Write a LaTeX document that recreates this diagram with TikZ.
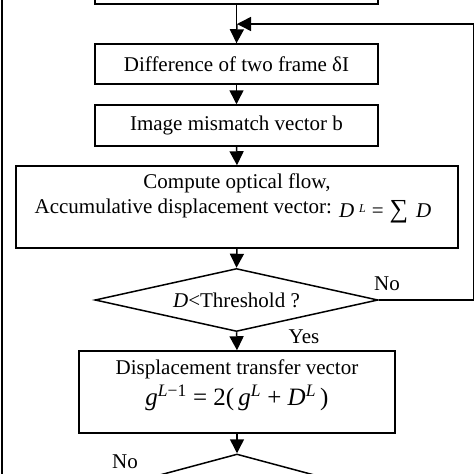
\documentclass[tikz,border=0pt]{standalone}
\usepackage{fontspec}
\setmainfont{Liberation Serif}
\usetikzlibrary{arrows.meta,shapes.geometric}
\begin{document}
\begin{tikzpicture}[x=1pt,y=-1pt,
  box/.style={draw,line width=1.5pt,rectangle,inner sep=0pt,align=center,font=\fontsize{21}{24}\selectfont},
  dec/.style={draw,line width=1.5pt,diamond,aspect=4.5,inner sep=0pt,font=\fontsize{21}{24}\selectfont},
  arr/.style={line width=1.5pt,-{Triangle[length=14pt,width=14pt]}},
  ln/.style={line width=1.5pt},
  lbl/.style={font=\fontsize{21}{24}\selectfont,inner sep=0pt}]
\useasboundingbox (0,0) rectangle (474,474);
\clip (0,0) rectangle (474,474);
\node[box,minimum width=283pt,minimum height=40pt] (top) at (236.5,-16) {};
\node[box,minimum width=283pt,minimum height=40pt] (b2) at (236.5,64) {Difference of two frame δI};
\node[box,minimum width=283pt,minimum height=41pt] (b3) at (236.5,125.5) {Image mismatch vector b};
\node[box,minimum width=442pt,minimum height=82pt] (b4) at (237,207) {};
\node[lbl] (t4a) at (237,183) {Compute optical flow,};
\node[lbl] (t4b) at (233,211) {Accumulative displacement vector: \raisebox{-4pt}{\textit{D}\hspace{5pt}\raisebox{5pt}{\fontsize{12}{12}\selectfont\textit{L}}\hspace{6pt}=\hspace{6pt}\fontsize{26}{26}\selectfont∑\fontsize{21}{24}\selectfont\hspace{8pt}\textit{D}}};
\node[dec,minimum width=283pt,minimum height=63pt] (d1) at (236.5,300) {\textit{D}<Threshold ?};
\node[box,minimum width=316pt,minimum height=82pt] (b5) at (237,392) {};
\node[lbl] (t5a) at (237,369) {Displacement transfer vector};
\node[lbl,font=\fontsize{25}{28}\selectfont] (t5b) at (237,398) {\textit{g}\textsuperscript{\textit{L}−1} = 2(\,\textit{g}\textsuperscript{\textit{L}} + \textit{D}\textsuperscript{\textit{L}}\,)};
\node[dec,minimum width=282pt,minimum height=76pt,aspect=3.7] (d2) at (237,492) {};
\coordinate (j) at (237,24);
\draw[ln] (top.south) -- (b2.north);
\draw[arr] (j) -- (b2.north);
\draw[arr] (b2.south) -- (b3.north);
\draw[arr] (b3.south) -- (b4.north);
\draw[arr] (b4.south) -- (d1.north);
\draw[arr] (d1.south) -- (b5.north);
\draw[arr] (b5.south) -- (d2.north);
\draw[arr] (d1.east) -- ++(95,0) |- (j);
\node[lbl] (no1) at (387,284) {No};
\node[lbl] (yes1) at (304,337) {Yes};
\node[lbl,anchor=base] (no2) at (125,468) {No};
\coordinate (lt) at (2,-5);
\coordinate (lb) at (2,480);
\draw[line width=2.2pt] (lb) -- (lt);
\end{tikzpicture}
\end{document}
